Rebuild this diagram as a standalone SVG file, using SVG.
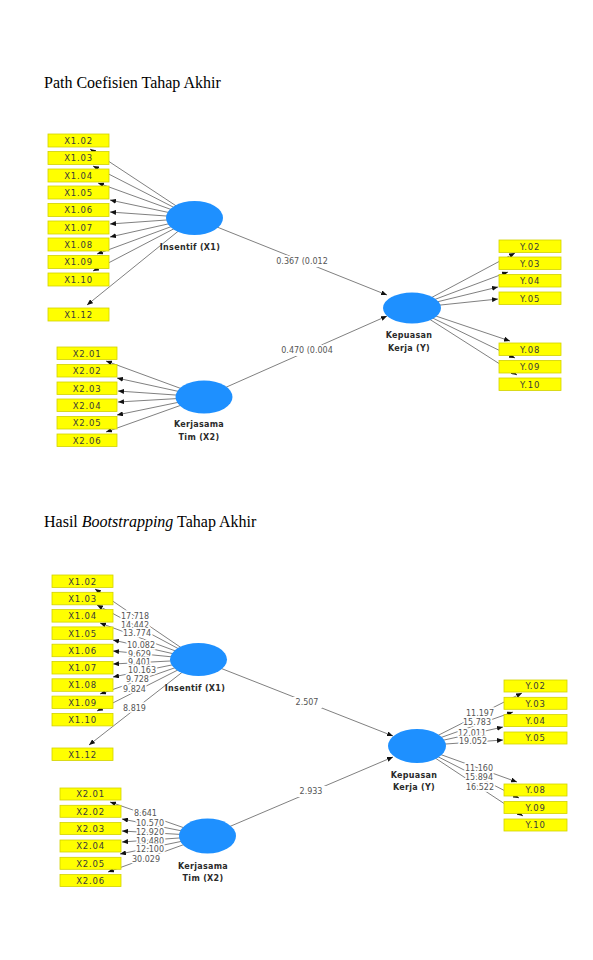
<svg xmlns="http://www.w3.org/2000/svg" width="593" height="960" viewBox="0 0 593 960">
<style>
.title{font-family:"Liberation Serif","Times New Roman",serif;font-size:16px;fill:#000}
.ind rect{fill:#ffff00;stroke:#d2d200;stroke-width:0.8}
.ind text{font-family:"DejaVu Sans",sans-serif;font-size:8.5px;fill:#3a3a3a;text-anchor:middle;letter-spacing:0.8px}
.lv ellipse{fill:#1e90ff}
.lv text{font-family:"DejaVu Sans",sans-serif;font-weight:bold;font-size:8px;fill:#2a2a2a;text-anchor:middle;letter-spacing:0.3px}
.cn line{stroke:#727272;stroke-width:0.9;marker-end:url(#ah)}
.bg{fill:#fff}
.lb{font-family:"DejaVu Sans",sans-serif;font-size:8px;fill:#555;stroke:#fff;stroke-width:3.5px;paint-order:stroke;stroke-linejoin:round}
</style>
<defs>
<marker id="ah" markerWidth="6" markerHeight="5" refX="6" refY="2.5" orient="auto" markerUnits="userSpaceOnUse"><path d="M0,0 L6,2.5 L0,5 z" fill="#111"/></marker>
</defs>
<rect width="593" height="960" fill="#fff"/>
<text class="title" x="44" y="88">Path Coefisien Tahap Akhir</text>
<text class="title" x="44" y="527">Hasil <tspan font-style="italic">Bootstrapping</tspan> Tahap Akhir</text>

<!-- Diagram 1 connectors -->
<g id="connectors1" class="cn">
<line x1="194.5" y1="218" x2="90" y2="149"/>
<line x1="194.5" y1="218" x2="93" y2="166"/>
<line x1="194.5" y1="218" x2="98" y2="183"/>
<line x1="194.5" y1="218" x2="110" y2="200"/>
<line x1="194.5" y1="218" x2="110" y2="212"/>
<line x1="194.5" y1="218" x2="110" y2="224"/>
<line x1="194.5" y1="218" x2="110" y2="237"/>
<line x1="194.5" y1="218" x2="97" y2="254"/>
<line x1="194.5" y1="218" x2="93" y2="271"/>
<line x1="194.5" y1="218" x2="87" y2="305"/>
<line x1="204" y1="397" x2="106" y2="361"/>
<line x1="204" y1="397" x2="117" y2="378"/>
<line x1="204" y1="397" x2="118" y2="391"/>
<line x1="204" y1="397" x2="118" y2="402"/>
<line x1="204" y1="397" x2="117" y2="415"/>
<line x1="204" y1="397" x2="106" y2="432"/>
<line x1="412" y1="308" x2="515" y2="253"/>
<line x1="412" y1="308" x2="508" y2="272"/>
<line x1="412" y1="308" x2="498" y2="287"/>
<line x1="412" y1="308" x2="498" y2="299"/>
<line x1="412" y1="308" x2="510" y2="341"/>
<line x1="412" y1="308" x2="515" y2="358"/>
<line x1="412" y1="308" x2="517" y2="375"/>
<line x1="194.5" y1="218" x2="387" y2="295"/>
<line x1="204" y1="397" x2="387" y2="316"/>
<rect class="bg" x="274" y="256" width="57" height="11"/>
<rect class="bg" x="279" y="345" width="57" height="11"/>
<text class="lb" x="302" y="264" text-anchor="middle">0.367 (0.012</text>
<text class="lb" x="307" y="353" text-anchor="middle">0.470 (0.004</text>
</g>

<!-- Diagram 1 nodes -->
<g id="d1-X1.02" class="ind"><rect x="48" y="134" width="61" height="13"/><text x="78.5" y="143.8">X1.02</text></g>
<g id="d1-X1.03" class="ind"><rect x="48" y="151.5" width="61" height="13"/><text x="78.5" y="161.3">X1.03</text></g>
<g id="d1-X1.04" class="ind"><rect x="48" y="169" width="61" height="13"/><text x="78.5" y="178.8">X1.04</text></g>
<g id="d1-X1.05" class="ind"><rect x="48" y="186" width="61" height="13"/><text x="78.5" y="195.8">X1.05</text></g>
<g id="d1-X1.06" class="ind"><rect x="48" y="203.5" width="61" height="13"/><text x="78.5" y="213.3">X1.06</text></g>
<g id="d1-X1.07" class="ind"><rect x="48" y="221" width="61" height="13"/><text x="78.5" y="230.8">X1.07</text></g>
<g id="d1-X1.08" class="ind"><rect x="48" y="238" width="61" height="13"/><text x="78.5" y="247.8">X1.08</text></g>
<g id="d1-X1.09" class="ind"><rect x="48" y="255.5" width="61" height="13"/><text x="78.5" y="265.3">X1.09</text></g>
<g id="d1-X1.10" class="ind"><rect x="48" y="273" width="61" height="13"/><text x="78.5" y="282.8">X1.10</text></g>
<g id="d1-X1.12" class="ind"><rect x="48" y="308" width="61" height="13"/><text x="78.5" y="317.8">X1.12</text></g>

<g id="d1-X2.01" class="ind"><rect x="57" y="347" width="60" height="12.5"/><text x="87" y="356.6">X2.01</text></g>
<g id="d1-X2.02" class="ind"><rect x="57" y="364.5" width="60" height="12.5"/><text x="87" y="374.1">X2.02</text></g>
<g id="d1-X2.03" class="ind"><rect x="57" y="382" width="60" height="12.5"/><text x="87" y="391.6">X2.03</text></g>
<g id="d1-X2.04" class="ind"><rect x="57" y="399" width="60" height="12.5"/><text x="87" y="408.6">X2.04</text></g>
<g id="d1-X2.05" class="ind"><rect x="57" y="416.5" width="60" height="12.5"/><text x="87" y="426.1">X2.05</text></g>
<g id="d1-X2.06" class="ind"><rect x="57" y="434" width="60" height="12.5"/><text x="87" y="443.6">X2.06</text></g>

<g id="d1-Y.02" class="ind"><rect x="499" y="240" width="62" height="12.5"/><text x="530" y="249.6">Y.02</text></g>
<g id="d1-Y.03" class="ind"><rect x="499" y="257" width="62" height="12.5"/><text x="530" y="266.6">Y.03</text></g>
<g id="d1-Y.04" class="ind"><rect x="499" y="274.5" width="62" height="12.5"/><text x="530" y="284.1">Y.04</text></g>
<g id="d1-Y.05" class="ind"><rect x="499" y="292" width="62" height="12.5"/><text x="530" y="301.6">Y.05</text></g>
<g id="d1-Y.08" class="ind"><rect x="499" y="343" width="62" height="12.5"/><text x="530" y="352.6">Y.08</text></g>
<g id="d1-Y.09" class="ind"><rect x="499" y="360.5" width="62" height="12.5"/><text x="530" y="370.1">Y.09</text></g>
<g id="d1-Y.10" class="ind"><rect x="499" y="378" width="62" height="12.5"/><text x="530" y="387.6">Y.10</text></g>

<g id="d1-Insentif" class="lv"><ellipse cx="194.5" cy="218" rx="28.5" ry="17"/><text x="190" y="250">Insentif (X1)</text></g>
<g id="d1-Kerjasama" class="lv"><ellipse cx="204" cy="397" rx="28.5" ry="16.5"/><text x="199" y="427">Kerjasama</text><text x="199" y="440">Tim (X2)</text></g>
<g id="d1-Kepuasan" class="lv"><ellipse cx="412" cy="308" rx="29" ry="15.5"/><text x="409" y="338">Kepuasan</text><text x="409" y="350.5">Kerja (Y)</text></g>

<!-- Diagram 2 connectors -->
<g id="connectors2" class="cn">
<line x1="198.5" y1="659.5" x2="95" y2="589"/>
<line x1="198.5" y1="659.5" x2="97" y2="605"/>
<line x1="198.5" y1="659.5" x2="100" y2="623"/>
<line x1="198.5" y1="659.5" x2="113" y2="640"/>
<line x1="198.5" y1="659.5" x2="113" y2="651"/>
<line x1="198.5" y1="659.5" x2="113" y2="664"/>
<line x1="198.5" y1="659.5" x2="113" y2="677"/>
<line x1="198.5" y1="659.5" x2="100" y2="694"/>
<line x1="198.5" y1="659.5" x2="97" y2="711"/>
<line x1="198.5" y1="659.5" x2="89" y2="745"/>
<line x1="207.5" y1="836" x2="110" y2="802"/>
<line x1="207.5" y1="836" x2="122" y2="819"/>
<line x1="207.5" y1="836" x2="122" y2="831"/>
<line x1="207.5" y1="836" x2="122" y2="842"/>
<line x1="207.5" y1="836" x2="120" y2="854"/>
<line x1="207.5" y1="836" x2="108" y2="872"/>
<line x1="417" y1="746" x2="522" y2="693"/>
<line x1="417" y1="746" x2="513" y2="712"/>
<line x1="417" y1="746" x2="503" y2="727"/>
<line x1="417" y1="746" x2="503" y2="740"/>
<line x1="417" y1="746" x2="517" y2="782"/>
<line x1="417" y1="746" x2="519" y2="798"/>
<line x1="417" y1="746" x2="523" y2="816"/>
<line x1="198.5" y1="659.5" x2="393" y2="736"/>
<line x1="207.5" y1="836" x2="393" y2="757"/>
<rect class="bg" x="292" y="697" width="30" height="11"/>
<rect class="bg" x="296" y="786" width="30" height="11"/>
<text class="lb" x="307" y="705" text-anchor="middle">2.507</text>
<text class="lb" x="311" y="794" text-anchor="middle">2.933</text>
<text class="lb" x="121" y="619">17.718</text>
<text class="lb" x="121" y="628">14.442</text>
<text class="lb" x="123" y="636">13.774</text>
<text class="lb" x="127" y="648">10.082</text>
<text class="lb" x="128" y="657">9.629</text>
<text class="lb" x="128" y="665">9.401</text>
<text class="lb" x="128" y="673">10.163</text>
<text class="lb" x="126" y="682">9.728</text>
<text class="lb" x="123" y="692">9.824</text>
<text class="lb" x="123" y="711">8.819</text>
<text class="lb" x="134" y="816">8.641</text>
<text class="lb" x="136" y="826">10.570</text>
<text class="lb" x="136" y="835">12.920</text>
<text class="lb" x="136" y="844">19.480</text>
<text class="lb" x="136" y="852">12.100</text>
<text class="lb" x="132" y="862">30.029</text>
<text class="lb" x="466" y="716">11.197</text>
<text class="lb" x="463" y="725">15.783</text>
<text class="lb" x="458" y="736">12.011</text>
<text class="lb" x="459" y="744">19.052</text>
<text class="lb" x="465" y="771">11.160</text>
<text class="lb" x="465" y="780">15.894</text>
<text class="lb" x="466" y="790">16.522</text>
</g>

<!-- Diagram 2 nodes -->
<g id="d2-X1.02" class="ind"><rect x="52" y="575" width="61" height="12.5"/><text x="82.5" y="584.6">X1.02</text></g>
<g id="d2-X1.03" class="ind"><rect x="52" y="592.3" width="61" height="12.5"/><text x="82.5" y="601.9">X1.03</text></g>
<g id="d2-X1.04" class="ind"><rect x="52" y="609.6" width="61" height="12.5"/><text x="82.5" y="619.2">X1.04</text></g>
<g id="d2-X1.05" class="ind"><rect x="52" y="626.9" width="61" height="12.5"/><text x="82.5" y="636.5">X1.05</text></g>
<g id="d2-X1.06" class="ind"><rect x="52" y="644.2" width="61" height="12.5"/><text x="82.5" y="653.8">X1.06</text></g>
<g id="d2-X1.07" class="ind"><rect x="52" y="661.5" width="61" height="12.5"/><text x="82.5" y="671.1">X1.07</text></g>
<g id="d2-X1.08" class="ind"><rect x="52" y="678.8" width="61" height="12.5"/><text x="82.5" y="688.4">X1.08</text></g>
<g id="d2-X1.09" class="ind"><rect x="52" y="696.1" width="61" height="12.5"/><text x="82.5" y="705.7">X1.09</text></g>
<g id="d2-X1.10" class="ind"><rect x="52" y="713.4" width="61" height="12.5"/><text x="82.5" y="723">X1.10</text></g>
<g id="d2-X1.12" class="ind"><rect x="52" y="748" width="61" height="12.5"/><text x="82.5" y="757.6">X1.12</text></g>

<g id="d2-X2.01" class="ind"><rect x="60" y="788" width="61" height="12"/><text x="90.5" y="797.4">X2.01</text></g>
<g id="d2-X2.02" class="ind"><rect x="60" y="805.3" width="61" height="12"/><text x="90.5" y="814.7">X2.02</text></g>
<g id="d2-X2.03" class="ind"><rect x="60" y="822.6" width="61" height="12"/><text x="90.5" y="832">X2.03</text></g>
<g id="d2-X2.04" class="ind"><rect x="60" y="840" width="61" height="12"/><text x="90.5" y="849.4">X2.04</text></g>
<g id="d2-X2.05" class="ind"><rect x="60" y="857.3" width="61" height="12"/><text x="90.5" y="866.7">X2.05</text></g>
<g id="d2-X2.06" class="ind"><rect x="60" y="874.6" width="61" height="12"/><text x="90.5" y="884">X2.06</text></g>

<g id="d2-Y.02" class="ind"><rect x="504" y="680" width="63" height="12"/><text x="535.5" y="689.4">Y.02</text></g>
<g id="d2-Y.03" class="ind"><rect x="504" y="697.3" width="63" height="12"/><text x="535.5" y="706.7">Y.03</text></g>
<g id="d2-Y.04" class="ind"><rect x="504" y="714.6" width="63" height="12"/><text x="535.5" y="724">Y.04</text></g>
<g id="d2-Y.05" class="ind"><rect x="504" y="732" width="63" height="12"/><text x="535.5" y="741.4">Y.05</text></g>
<g id="d2-Y.08" class="ind"><rect x="504" y="784" width="63" height="12"/><text x="535.5" y="793.4">Y.08</text></g>
<g id="d2-Y.09" class="ind"><rect x="504" y="801.5" width="63" height="12"/><text x="535.5" y="810.9">Y.09</text></g>
<g id="d2-Y.10" class="ind"><rect x="504" y="819" width="63" height="12"/><text x="535.5" y="828.4">Y.10</text></g>

<g id="d2-Insentif" class="lv"><ellipse cx="198.5" cy="659.5" rx="28.5" ry="16.5"/><text x="195" y="691">Insentif (X1)</text></g>
<g id="d2-Kerjasama" class="lv"><ellipse cx="207.5" cy="836" rx="28.5" ry="17.5"/><text x="203" y="869">Kerjasama</text><text x="203" y="880.5">Tim (X2)</text></g>
<g id="d2-Kepuasan" class="lv"><ellipse cx="417" cy="746" rx="29" ry="17"/><text x="414" y="777.5">Kepuasan</text><text x="414" y="789.5">Kerja (Y)</text></g>
</svg>
